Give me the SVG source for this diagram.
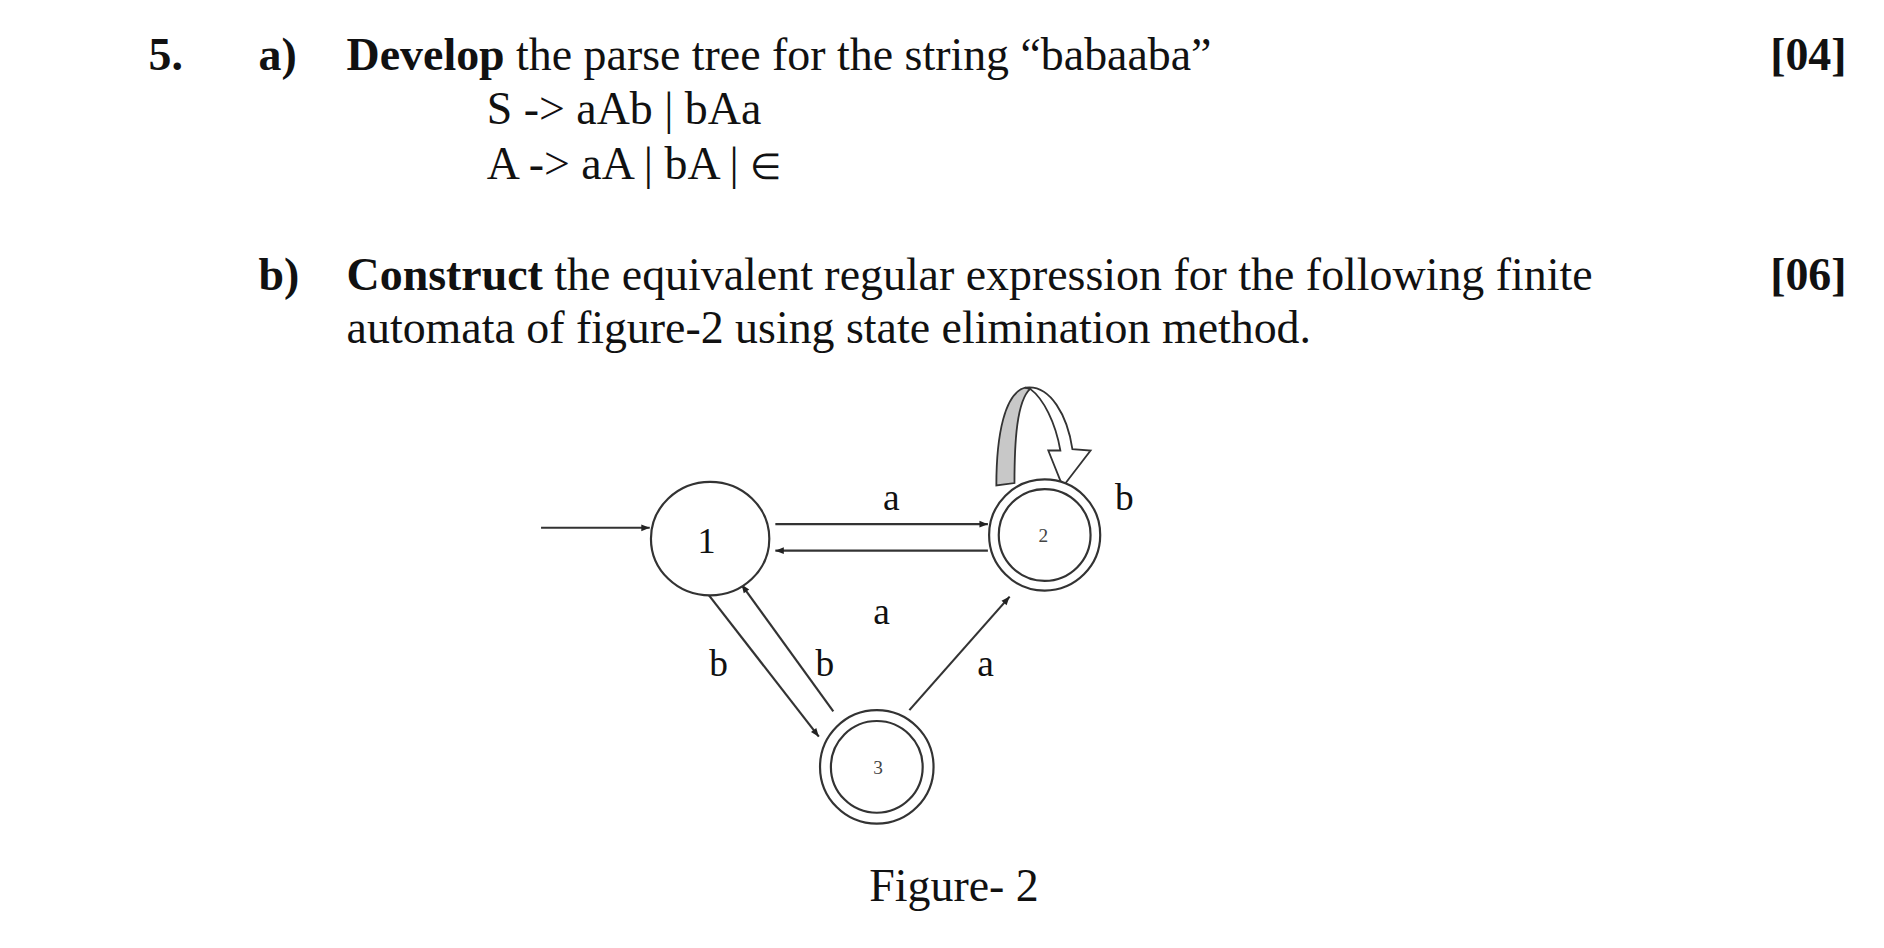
<svg xmlns="http://www.w3.org/2000/svg" width="1884" height="948" viewBox="0 0 1884 948">
<defs>
<marker id="ah" viewBox="0 0 10 10" refX="10" refY="5" markerWidth="9" markerHeight="7" markerUnits="userSpaceOnUse" orient="auto"><path d="M0,1 L10,5 L0,9 z" fill="#222"/></marker>
</defs>
<style>
text{font-family:"Liberation Serif","Times New Roman",serif;fill:#111}
.t{font-size:38px}
.b{font-weight:bold}
.l{font-size:31px}
.n{font-size:16px;fill:#444}
.e{stroke:#333;stroke-width:1.8;fill:none}
.s{stroke:#333;stroke-width:1.8;fill:#fff}
</style>
<rect width="1884" height="948" fill="#fff"/>
<g transform="scale(1.2077)">
<g id="text">
<text class="t b" x="123" y="58">5.</text>
<text class="t" x="214" y="58"><tspan class="b">a)</tspan><tspan x="287" class="b">Develop</tspan> the parse tree for the string “babaaba”</text>
<text class="t b" x="1529" y="58" text-anchor="end">[04]</text>
<text class="t" x="403" y="103">S -&gt; aAb | bAa</text>
<text class="t" x="403" y="148">A -&gt; aA | bA | <tspan font-size="30">∈</tspan></text>
<text class="t" x="214" y="240"><tspan class="b">b)</tspan><tspan x="287" class="b">Construct</tspan> the equivalent regular expression for the following finite</text>
<text class="t b" x="1529" y="240" text-anchor="end">[06]</text>
<text class="t" x="287" y="284">automata of figure-2 using state elimination method.</text>
<text class="t" x="790" y="746" text-anchor="middle">Figure- 2</text>
</g>
<g id="connectors">
<line class="e" x1="448" y1="437" x2="538" y2="437" marker-end="url(#ah)"/>
<line class="e" x1="642" y1="434" x2="818" y2="434" marker-end="url(#ah)"/>
<line class="e" x1="818" y1="456" x2="642" y2="456" marker-end="url(#ah)"/>
<line class="e" x1="584" y1="489" x2="678" y2="610" marker-end="url(#ah)"/>
<line class="e" x1="690" y1="589" x2="614" y2="484" marker-end="url(#ah)"/>
<line class="e" x1="753" y1="588" x2="836" y2="494" marker-end="url(#ah)"/>
<path d="M825,402 C825,360 832,325 849,321 L853,322 C842,332 840,365 840,400 Z" fill="#c8c8c8" stroke="#333" stroke-width="1.5"/>
<path d="M849,321 C870,318 884,345 888,372 L903,373 L880,403 L868,373 L878,373 C874,350 864,330 853,322 Z" fill="#fff" stroke="#333" stroke-width="1.5"/>
<text class="l" x="738" y="422" text-anchor="middle">a</text>
<text class="l" x="730" y="517" text-anchor="middle">a</text>
<text class="l" x="595" y="560" text-anchor="middle">b</text>
<text class="l" x="683" y="560" text-anchor="middle">b</text>
<text class="l" x="816" y="560" text-anchor="middle">a</text>
<text class="l" x="931" y="422" text-anchor="middle">b</text>
</g>
<g id="node1"><ellipse class="s" cx="588" cy="446" rx="49" ry="47"/><text x="585" y="458" font-size="30" text-anchor="middle" fill="#444">1</text></g>
<g id="node2"><circle class="s" cx="865" cy="443" r="46"/><circle class="e" cx="865" cy="443" r="38"/><text class="n" x="864" y="449" text-anchor="middle">2</text></g>
<g id="node3"><circle class="s" cx="726" cy="635" r="47"/><circle class="e" cx="726" cy="635" r="38"/><text class="n" x="727" y="641" text-anchor="middle">3</text></g>
</g>
</svg>
